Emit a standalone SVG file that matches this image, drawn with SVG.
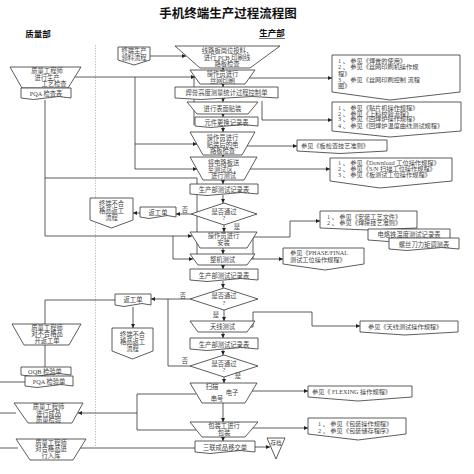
<svg xmlns="http://www.w3.org/2000/svg" width="474" height="474" viewBox="0 0 474 474">
<style>
.n{fill:#fff;stroke:#333;stroke-width:0.8}
.t{font-family:"Liberation Serif","Noto Sans CJK SC",serif;font-size:6.3px;fill:#444;text-anchor:middle}
.s{font-family:"Liberation Serif","Noto Sans CJK SC",serif;font-size:6.2px;fill:#444}
.c{fill:none;stroke:#333;stroke-width:0.8}
.h{font-family:"Liberation Serif","Noto Sans CJK SC",serif;font-weight:bold;fill:#111}
</style>
<defs>
<marker id="a" viewBox="0 0 6 6" refX="6" refY="3" markerWidth="4" markerHeight="4" orient="auto" markerUnits="userSpaceOnUse"><path d="M0,0L6,3L0,6z" fill="#222"/></marker>
</defs>
<rect width="474" height="474" fill="#fff"/>
<text class="h" x="228" y="18" font-size="12.5" text-anchor="middle">手机终端生产过程流程图</text>
<text class="h" x="38" y="37" font-size="8.5" text-anchor="middle">质量部</text>
<text class="h" x="272" y="36" font-size="8.5" text-anchor="middle">生产部</text>
<line x1="259" y1="38.5" x2="285" y2="38.5" stroke="#111" stroke-width="0.6"/>
<line x1="95.5" y1="45" x2="95.5" y2="446" stroke="#999" stroke-width="0.7" stroke-dasharray="1.2,1.5"/>

<g id="connectors">
<path class="c" marker-end="url(#a)" d="M223,68V70"/>
<path class="c" marker-end="url(#a)" d="M223,84V87"/>
<path class="c" marker-end="url(#a)" d="M223,99V102"/>
<path class="c" marker-end="url(#a)" d="M223,114V117"/>
<path class="c" marker-end="url(#a)" d="M223,127V132"/>
<path class="c" marker-end="url(#a)" d="M223,155V157"/>
<path class="c" marker-end="url(#a)" d="M223,180V184"/>
<path class="c" marker-end="url(#a)" d="M223,195V203"/>
<path class="c" marker-end="url(#a)" d="M224,225V232"/>
<path class="c" marker-end="url(#a)" d="M223,248V254"/>
<path class="c" marker-end="url(#a)" d="M223,265V269"/>
<path class="c" marker-end="url(#a)" d="M223,281V288"/>
<path class="c" marker-end="url(#a)" d="M224,310V321"/>
<path class="c" marker-end="url(#a)" d="M223,332V338"/>
<path class="c" marker-end="url(#a)" d="M223,350V355"/>
<path class="c" marker-end="url(#a)" d="M224,377V383"/>
<path class="c" marker-end="url(#a)" d="M223,403V422"/>
<path class="c" marker-end="url(#a)" d="M223,437V441"/>
<path class="c" marker-end="url(#a)" d="M150,56H186"/>
<path class="c" marker-end="url(#a)" d="M75,77H195"/>
<path class="c" d="M135,77V169"/>
<path class="c" marker-end="url(#a)" d="M135,144H197"/>
<path class="c" marker-end="url(#a)" d="M135,169H197"/>
<path class="c" d="M45,100V236"/>
<path class="c" d="M45,178H197V258"/>
<path class="c" marker-end="url(#a)" d="M45,236H192"/>
<path class="c" marker-end="url(#a)" d="M173,236V259H193"/>
<path class="c" d="M194,77V125"/>
<path class="c" marker-end="url(#a)" d="M191,214H176"/>
<path class="c" marker-end="url(#a)" d="M140,213H133"/>
<path class="c" marker-end="url(#a)" d="M190,299H151"/>
<path class="c" d="M190,366H168V299"/>
<path class="c" d="M115,300H45V324"/>
<path class="c" marker-end="url(#a)" d="M133,307V328"/>
<path class="c" d="M45,345V367"/>
<path class="c" d="M0,382H25"/>
<path class="c" d="M0,413H16"/>
<path class="c" d="M0,448H18"/>
<path class="c" d="M196,394H137V430H196"/>
<path class="c" marker-end="url(#a)" d="M137,413H78"/>
<path class="c" d="M195,448H80"/>
<path class="c" marker-end="url(#a)" d="M255,447H270"/>
<path class="c" marker-end="url(#a)" d="M249,78H332"/>
<path class="c" marker-end="url(#a)" d="M262,101V120H332"/>
<path class="c" marker-end="url(#a)" d="M247,146H297"/>
<path class="c" marker-end="url(#a)" d="M250,169H330"/>
<path class="c" marker-end="url(#a)" d="M254,237H290V221H320"/>
<path class="c" d="M253,237V259"/>
<path class="c" marker-end="url(#a)" d="M251,259H283"/>
<path class="c" marker-end="url(#a)" d="M250,327H253V312H312V326H360"/>
<path class="c" marker-end="url(#a)" d="M252,391H308"/>
<path class="c" marker-end="url(#a)" d="M253,428H308"/>
</g>

<g id="n1"><polygon class="n" points="175,46 280,46 250,68 200,68"/><text class="t" x="227" y="53">线路板岗位投料，</text><text class="t" x="227" y="59.5">进行 PCB 印刷线</text><text class="t" x="227" y="66">路板检查</text></g>
<g id="n2"><polygon class="n" points="190,70 255,70 245,84 200,84"/><text class="t" x="222.5" y="76">操作员进行</text><text class="t" x="222.5" y="82.5">丝网印刷</text></g>
<g id="n3"><path class="n" d="M175,87H278V98Q252.25,95 226.5,98T175,98Z"/><text class="t" x="226.5" y="95.3">焊膏高度测量统计过程控制单</text></g>
<g id="n4"><polygon class="n" points="187,102 258,102 248,114 197,114"/><text class="t" x="222.5" y="111">进行表面贴装</text></g>
<g id="n5"><path class="n" d="M195,117H258V126Q242.25,123 226.5,126T195,126Z"/><text class="t" x="226.5" y="124.5">元件更换记录表</text></g>
<g id="n6"><polygon class="n" points="190,132 255,132 242,155 203,155"/><text class="t" x="222.5" y="139.8">操作员进行</text><text class="t" x="222.5" y="146.5">贴装后的电</text><text class="t" x="222.5" y="153.2">路板检查</text></g>
<g id="n7"><polygon class="n" points="190,157 257,157 244,180 203,180"/><text class="t" x="223.5" y="165">将电路板送</text><text class="t" x="223.5" y="171.7">至测试区，</text><text class="t" x="223.5" y="178.3">进行测试</text></g>
<g id="n8"><path class="n" d="M190,184H258V194Q241,191 224,194T190,194Z"/><text class="t" x="224" y="192">生产部测试记录表</text></g>
<g id="n9"><polygon class="n" points="191,214 224,203 257,214 224,225"/><text class="t" x="224" y="213.5">是否通过</text><text class="t" x="224" y="219.8">?</text></g>
<g id="n10"><polygon class="n" points="190,232 257,232 247,248 200,248"/><text class="t" x="223.5" y="238.3">操作员进行</text><text class="t" x="223.5" y="244.8">安装</text></g>
<g id="n11"><polygon class="n" points="190,254 255,254 247,265 198,265"/><text class="t" x="222.5" y="261.8">整机测试</text></g>
<g id="n12"><path class="n" d="M190,269H258V280Q241,277 224,280T190,280Z"/><text class="t" x="224" y="278">生产部测试记录表</text></g>
<g id="n13"><polygon class="n" points="190,299 224,288 258,299 224,310"/><text class="t" x="224" y="298.3">是否通过</text><text class="t" x="224" y="304.8">?</text></g>
<g id="n14"><polygon class="n" points="190,321 255,321 247,332 198,332"/><text class="t" x="222.5" y="329.3">天线测试</text></g>
<g id="n15"><path class="n" d="M190,338H258V349Q241,346 224,349T190,349Z"/><text class="t" x="224" y="346.5">生产部测试记录表</text></g>
<g id="n16"><polygon class="n" points="190,366 224,355 258,366 224,377"/><text class="t" x="224" y="366">是否通过</text><text class="t" x="224" y="372.3">?</text></g>
<g id="n17"><polygon class="n" points="190,383 257,383 245,403 202,403"/><text class="t" x="212" y="389.3">扫描</text><text class="t" x="232" y="395.3">电子</text><text class="t" x="217" y="401.3">串号</text></g>
<g id="n18"><polygon class="n" points="190,422 258,422 245,437 202,437"/><text class="t" x="224" y="428.3">包装工进行</text><text class="t" x="224" y="434.6">包装</text></g>
<g id="n19"><path class="n" d="M195,441H255V452Q240,449 225,452T195,452Z"/><text class="t" x="225" y="450.3">三联成品移交单</text></g>
<g id="n20"><polygon class="n" points="267,438 285,438 276,459"/><text class="t" x="276" y="444.5" style="font-size:5.5px">存档</text></g>

<g id="p1"><path class="n" d="M118,47H150V60L134,65L118,60Z"/><text class="t" x="134" y="53.3">终端生产</text><text class="t" x="134" y="59.6">领料流程</text></g>
<g id="q1"><polygon class="n" points="10,67 81,67 68,88 22,88"/><text class="t" x="47" y="73.3">质量工程师</text><text class="t" x="47" y="80">进行生产</text><text class="t" x="54" y="86.3">工艺检查</text></g>
<g id="q1d"><path class="n" d="M21,88H71V98Q58.5,95 46,98T21,98Z"/><text class="t" x="46" y="95.5">PQA 检查表</text></g>
<g id="r1"><path class="n" d="M140,207H176V217Q167,214 158,217T140,217Z"/><text class="t" x="158" y="215.3">返工单</text></g>
<g id="f1"><path class="n" d="M90,198H133V220L111.5,228L90,220Z"/><text class="t" x="111.5" y="206.3">终端不合</text><text class="t" x="111.5" y="213.3">格品返工</text><text class="t" x="111.5" y="220.3">流程</text></g>
<g id="r2"><path class="n" d="M115,294H151V305Q142,302 133,305T115,305Z"/><text class="t" x="133" y="302.3">返工单</text></g>
<g id="f2"><path class="n" d="M112,328H153V351L132.5,359L112,351Z"/><text class="t" x="132.5" y="337.3">终端不合</text><text class="t" x="132.5" y="344.3">格品返工</text><text class="t" x="132.5" y="351">流程</text></g>
<g id="q2"><polygon class="n" points="12,324 81,324 69,345 24,345"/><text class="t" x="47" y="329.5">质量工程师</text><text class="t" x="47" y="336.3">对不合格品</text><text class="t" x="47" y="342.5">开返工单</text></g>
<g id="q2d"><path class="n" d="M21,367H71V375Q58.5,372 46,375T21,375Z"/><text class="t" x="45" y="374">OQB 检验单</text></g>
<g id="q2e"><path class="n" d="M25,376H73V386Q61,383 49,386T25,386Z"/><text class="t" x="49" y="384">PQA 检验单</text></g>
<g id="q3"><polygon class="n" points="14,403 83,403 72,423 28,423"/><text class="t" x="48.5" y="409.3">质量工程师</text><text class="t" x="48.5" y="415.7">进行成品</text><text class="t" x="48.5" y="421.8">质量检验</text></g>
<g id="q4"><polygon class="n" points="16,439 86,439 73,460 30,460"/><text class="t" x="51" y="444.5">质量工程师</text><text class="t" x="51" y="451.3">对合格品进</text><text class="t" x="51" y="458">行入库</text></g>

<g id="m1"><path class="n" d="M332,55H460V92L390,100L332,92Z"/><text class="s" x="338" y="63.3">1 、 参见《焊膏的使用》</text><text class="s" x="338" y="69.3">2 、 参见《丝网印刷机操作规</text><text class="s" x="338" y="76">程》</text><text class="s" x="338" y="82.3">3 、 参见《丝网印刷控制 流程</text><text class="s" x="338" y="88.3">图》</text></g>
<g id="m2"><path class="n" d="M332,102H461V131L390,137L332,131Z"/><text class="s" x="338" y="109.6">1 、 参见《贴片机操作规程》</text><text class="s" x="338" y="115.6">2 、 参见《上料校验流程》</text><text class="s" x="338" y="121.3">3 、 参见《回焊炉操作规程》</text><text class="s" x="338" y="127.6">4 、 参见《回焊炉温度曲线测试规程》</text></g>
<g id="m3"><path class="n" d="M297,140H387V151L340,153.5L297,151Z"/><text class="s" x="301" y="147.6">参见《板检查技艺准则》</text></g>
<g id="m4"><path class="n" d="M330,158H452V181L380,188L330,181Z"/><text class="s" x="338" y="165.3">1 、 参见《Download 工位操作规程》</text><text class="s" x="338" y="171.2">2 、 参见《S/N 扫描工位操作规程》</text><text class="s" x="338" y="177.2">3 、 参见《板测试工位操作规程》</text></g>
<g id="m5"><path class="n" d="M320,211H417V228L368,230L320,228Z"/><text class="s" x="327" y="218.6">1 、 参见《安装工艺文件》</text><text class="s" x="327" y="224.6">2 、 参见《焊接技艺准则》</text></g>
<g id="m5a"><path class="n" d="M368,229H450V240Q429.5,237 409,240T368,240Z"/><text class="t" x="409" y="237">电烙铁温度测试记录表</text></g>
<g id="m5b"><path class="n" d="M389,238H459V249Q441.5,246 424,249T389,249Z"/><text class="t" x="424" y="246.6">螺丝刀力矩调测表</text></g>
<g id="m6"><path class="n" d="M283,248H364V264L325,270L283,264Z"/><text class="s" x="290" y="255">参见《PHASE/FINAL</text><text class="s" x="290" y="262.3">测试工位操作规程》</text></g>
<g id="m7"><path class="n" d="M360,321H458V332L405,335L360,332Z"/><text class="s" x="368" y="328.5">参见《天线测试操作规程》</text></g>
<g id="m8"><path class="n" d="M308,386H412V397L358,401L308,397Z"/><text class="s" x="312" y="394">参见《 FLEXING 操作规程》</text></g>
<g id="m9"><path class="n" d="M308,418H406V434L358,440L308,434Z"/><text class="s" x="318" y="426.3">1 、 参见《包装操作规程》</text><text class="s" x="318" y="432.5">2 、 参见《包装储存程序》</text></g>

<g id="labels">
<text class="t" x="185" y="212">否</text>
<text class="t" x="237" y="229">是</text>
<text class="t" x="183" y="298">否</text>
<text class="t" x="216" y="317">是</text>
<text class="t" x="185" y="363">否</text>
<text class="t" x="238" y="378">是</text>
</g>
</svg>
